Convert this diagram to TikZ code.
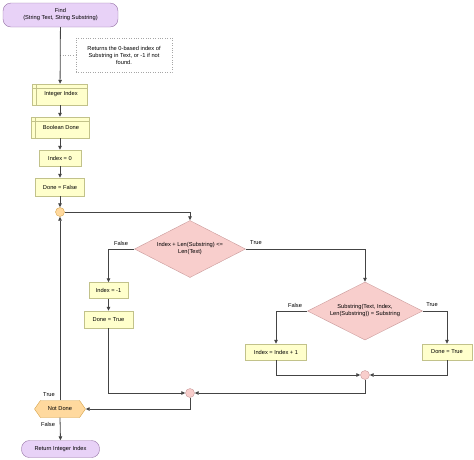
\documentclass[tikz,border=0pt]{standalone}
\usepackage{fontspec}
\setmainfont{Liberation Sans}
\usetikzlibrary{shapes.geometric,shapes.symbols,arrows.meta}
\definecolor{yfill}{HTML}{FFFFCC}
\definecolor{ydraw}{HTML}{C2C28A}
\definecolor{pfill}{HTML}{F8CECC}
\definecolor{pdraw}{HTML}{C99A9A}
\definecolor{vfill}{HTML}{E8D2F7}
\definecolor{vdraw}{HTML}{9673A6}
\definecolor{ofill}{HTML}{FFD99E}
\definecolor{odraw}{HTML}{D6A44B}
\definecolor{lin}{HTML}{444444}
\tikzset{
  every node/.style={font=\fontsize{5.7}{7}\selectfont},
  term/.style={draw=vdraw,fill=vfill,rounded corners=8pt,minimum height=#1,inner sep=1pt,align=center},
  proc/.style={draw=ydraw,fill=yfill,minimum height=16pt,inner sep=2pt,align=center},
  store/.style={proc,minimum height=21pt,path picture={
     \draw[ydraw] ([xshift=4pt]path picture bounding box.north west) -- ([xshift=4pt]path picture bounding box.south west);
     \draw[ydraw] ([yshift=-4pt]path picture bounding box.north west) -- ([yshift=-4pt]path picture bounding box.north east);}},
  dec/.style={diamond,draw=pdraw,fill=pfill,inner sep=0pt,align=center,shape aspect=2.4},
  merge/.style={circle,draw=pdraw,fill=pfill,minimum size=9pt,inner sep=0pt},
  omerge/.style={circle,draw=odraw,fill=ofill,minimum size=9pt,inner sep=0pt},
  arr/.style={draw=lin,line width=0.8pt,-{Triangle[length=4pt,width=3.5pt]}},
  lbl/.style={inner sep=1pt}
}
\begin{document}
\begin{tikzpicture}[x=1pt,y=-1pt]
\useasboundingbox (0,0) rectangle (474,459);
\node[term=24pt,minimum width=115pt] (find) at (60.5,15) {Find\\(String Text, String Substring)};
\node[draw=gray!70,dotted,fill=white,minimum width=96pt,minimum height=34pt,align=center,inner sep=1pt] (cmt) at (124,55) {Returns the 0-based index of\\Substring in Text, or -1 if not\\found.};
\coordinate (cj) at (60,55);
\draw[gray!70,dotted,line width=0.6pt] (cj) -- (cmt.west);
\node[store,minimum width=55pt] (intidx) at (60,94.5) {\hspace{2pt}Integer Index};
\node[store,minimum width=58pt] (booldone) at (60,127.5) {\hspace{2pt}Boolean Done};
\node[proc,minimum width=42pt] (idx0) at (60,158) {Index = 0};
\node[proc,minimum width=49pt,minimum height=18pt] (donef) at (60,187) {Done = False};
\node[omerge] (m1) at (60,212) {};
\node[dec,minimum width=111pt,minimum height=57pt] (d1) at (190,249) {Index + Len(Substring) <=\\Len(Text)};
\node[proc,minimum width=39pt] (idxm1) at (108.5,290.5) {Index = -1};
\node[proc,minimum width=49pt,minimum height=17pt] (donetL) at (108.5,319.5) {Done = True};
\node[dec,minimum width=115pt,minimum height=58pt] (d2) at (365,311) {Substring(Text, Index,\\Len(Substring)) = Substring};
\node[proc,minimum width=61pt] (idxinc) at (276,352) {Index = Index + 1};
\node[proc,minimum width=50pt] (donetR) at (447,352) {Done = True};
\node[merge] (m2) at (365,375) {};
\node[merge] (m3) at (190,393) {};
\node[signal,signal to=west and east,signal pointer angle=110,draw=odraw,fill=ofill,minimum width=51pt,minimum height=17pt,inner sep=1pt] (nd) at (60,409) {Not Done};
\node[term=17pt,minimum width=78pt] (ret) at (60.5,449) {Return Integer Index};

\draw[arr] (find) -- (intidx);
\draw[arr] (intidx) -- (booldone);
\draw[arr] (booldone) -- (idx0);
\draw[arr] (idx0) -- (donef);
\draw[arr] (donef) -- (m1);
\draw[arr] (m1.east) -| (d1.north);
\draw[arr] (d1.west) -| (idxm1.north);
\node[lbl] (lf1) at (121,243) {False};
\draw[arr] (d1.east) -| (d2.north);
\node[lbl] (lt1) at (256,243) {True};
\draw[arr] (idxm1) -- (donetL);
\draw[arr] (donetL.south) |- (m3.west);
\draw[arr] (d2.west) -| (idxinc.north);
\node[lbl] (lf2) at (295,305) {False};
\draw[arr] (d2.east) -| (donetR.north);
\node[lbl] (lt2) at (432,305) {True};
\draw[arr] (idxinc.south) |- (m2.west);
\draw[arr] (donetR.south) |- (m2.east);
\draw[arr] (m2.south) |- (m3.east);
\draw[arr] (m3.south) |- (nd.east);
\draw[arr] (nd.north) -- (m1.south);
\node[lbl] (lt3) at (49,395) {True};
\draw[arr] (nd.south) -- (ret.north);
\node[lbl] (lf3) at (48,424) {False};
\end{tikzpicture}
\end{document}
